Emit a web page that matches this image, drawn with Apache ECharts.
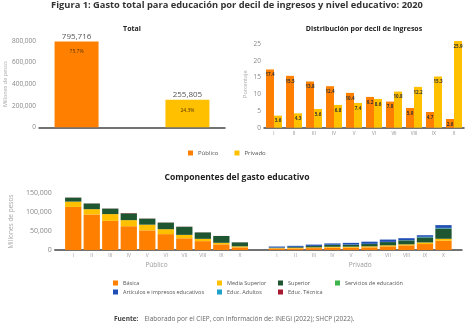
<!DOCTYPE html>
<html><head><meta charset="utf-8">
<script src="https://cdn.jsdelivr.net/npm/echarts@6/dist/echarts.min.js"></script>
<style>html,body{margin:0;padding:0;background:#fff}#c{width:474px;height:330px}</style>
</head><body><div id="c"></div>
<script>
// ---- Data ----
const totalLabels = ['Público', 'Privado'];
const totalValues = [795716, 255805];
const totalPct = ['75.7%', '24.3%'];
const deciles = ['I','II','III','IV','V','VI','VII','VIII','IX','X'];
const distPublico = [17.4, 15.5, 13.8, 12.4, 10.4, 9.2, 7.8, 5.9, 4.7, 2.6];
const distPrivado = [3.6, 4.3, 5.6, 6.8, 7.4, 8.6, 10.8, 12.2, 15.3, 25.9];
const compNames = ['Básica','Media Superior','Superior','Servicios de educación','Educ. Técnica','Educ. Adultos','Artículos e impresos educativos'];
const pubBasica   = [114000, 94000, 77000, 63000, 52000, 42000, 31000, 23500, 15000, 7000];
const pubMedia    = [14000, 14000, 18000, 16000, 15000, 13000, 9000, 6000, 4000, 2700];
const pubSuperior = [10500, 15000, 14500, 18000, 16000, 17500, 21500, 17000, 18000, 10500];
const pubServ     = [0, 0, 0, 0, 0, 0, 0, 0, 0, 0];
const pubTecnica  = [300, 300, 300, 800, 300, 300, 300, 200, 200, 100];
const pubAdultos  = [0, 0, 0, 0, 0, 0, 0, 0, 0, 0];
const pubArticulos= [0, 0, 0, 0, 0, 0, 0, 0, 0, 0];
const privBasica   = [4000, 4000, 5000, 6000, 6000, 7000, 9700, 12400, 15800, 24500];
const privMedia    = [1000, 2000, 2000, 2500, 2700, 2700, 2700, 2600, 4200, 5200];
const privSuperior = [1500, 2000, 3500, 5000, 5300, 6100, 8600, 10500, 13400, 27300];
const privServ     = [0, 0, 0, 0, 0, 0, 0, 0, 0, 0];
const privTecnica  = [0, 0, 0, 0, 0, 0, 0, 0, 0, 0];
const privAdultos  = [300, 300, 300, 400, 400, 500, 500, 600, 1500, 1500];
const privArticulos= [2400, 2700, 3500, 3500, 4500, 5700, 6100, 5100, 4200, 7300];
const groupLabels = ['Público', 'Privado'];

// ---- Build ----
const FONT = 'Open Sans';
const cOrange = '#FF8000', cYellow = '#FFC000';
const compColors = ['#FF8000','#FFC000','#1E5631','#3CB44B','#A6192E','#1FA2C8','#1F4EB4'];
const pubComp = [pubBasica, pubMedia, pubSuperior, pubServ, pubTecnica, pubAdultos, pubArticulos];
const privComp = [privBasica, privMedia, privSuperior, privServ, privTecnica, privAdultos, privArticulos];
const bottomCats = [''].concat(deciles, [''], deciles, ['']);
const fmt = v => Number(v).toLocaleString('en-US');

const axisLineStyle = {show:true, lineStyle:{color:'#444', width:1.5}};
const compSeries = compNames.map((n, i) => ({
  name: n, type: 'bar', stack: 'comp', xAxisIndex: 2, yAxisIndex: 2,
  barCategoryGap: '12%', itemStyle: {color: compColors[i]},
  data: [null].concat(pubComp[i], [null], privComp[i], [null])
}));
const totalLabel = i => ({
  show:true, position:['50%', -9], align:'center', verticalAlign:'top',
  formatter: p => '{v|' + fmt(p.value) + '}\n{p|' + totalPct[i] + '}',
  rich:{v:{fontFamily:FONT, fontSize:8, color:'#555', lineHeight:9, align:'center'},
        p:{fontFamily:FONT, fontSize:5, color:'#553300', lineHeight:21, align:'center'}}
});
const titleTxt = (size) => ({fontFamily:FONT, fontSize:size, fontWeight:'bold', color:'#222'});

const chart = echarts.init(document.getElementById('c'), null, {renderer:'canvas'});
chart.setOption({
  animation: false,
  textStyle: {fontFamily: FONT},
  title: [
    {text:'Figura 1: Gasto total para educación por decil de ingresos y nivel educativo: 2020', left:'center', top:1, padding:0,
     textStyle:{fontFamily:FONT, fontSize:9.3, fontWeight:'bold', color:'#333'}},
    {text:'Total', left:132, textAlign:'center', top:25, padding:0, textStyle:titleTxt(7)},
    {text:'Distribución por decil de ingresos', left:364, textAlign:'center', top:25, padding:0, textStyle:titleTxt(7)},
    {text:'Componentes del gasto educativo', left:'center', top:173, padding:0, textStyle:titleTxt(8.6)},
    {text:'{b|Fuente:}{n|Elaborado por el CIEP, con información de: INEGI (2022); SHCP (2022).}', left:114, top:316, padding:0,
     textStyle:{rich:{b:{fontFamily:FONT, fontSize:6.5, fontWeight:'bold', color:'#444', padding:[0,6,0,0]},
                      n:{fontFamily:FONT, fontSize:6.5, fontWeight:'normal', color:'#666'}}}}
  ],
  legend: [
    {data: totalLabels, left:188, top:150, padding:0, itemWidth:5, itemHeight:5, itemGap:16, icon:'rect', selectedMode:false,
     textStyle:{fontFamily:FONT, fontSize:6, color:'#555'}},
    {data:['Básica','Artículos e impresos educativos'], orient:'vertical', left:113, top:280, padding:0, itemWidth:5, itemHeight:5, itemGap:3, icon:'rect', selectedMode:false, textStyle:{fontFamily:FONT, fontSize:5.5, color:'#555'}},
    {data:['Media Superior','Educ. Adultos'], orient:'vertical', left:217, top:280, padding:0, itemWidth:5, itemHeight:5, itemGap:3, icon:'rect', selectedMode:false, textStyle:{fontFamily:FONT, fontSize:5.5, color:'#555'}},
    {data:['Superior','Educ. Técnica'], orient:'vertical', left:278, top:280, padding:0, itemWidth:5, itemHeight:5, itemGap:3, icon:'rect', selectedMode:false, textStyle:{fontFamily:FONT, fontSize:5.5, color:'#555'}},
    {data:['Servicios de educación'], orient:'vertical', left:335, top:280, padding:0, itemWidth:5, itemHeight:5, itemGap:3, icon:'rect', selectedMode:false, textStyle:{fontFamily:FONT, fontSize:5.5, color:'#555'}}
  ],
  grid: [
    {left:39, width:186, top:41, height:86.3},
    {left:264, width:200, top:40.7, height:87},
    {left:50, width:412, top:193.3, height:56.7}
  ],
  xAxis: [
    {gridIndex:0, type:'category', data:[''], axisLine:axisLineStyle, axisTick:{show:false}, axisLabel:{show:false}},
    {gridIndex:1, type:'category', data:deciles, axisLine:axisLineStyle, axisTick:{show:false},
     axisLabel:{interval:0, fontSize:4.5, color:'#888', margin:3.5}},
    {gridIndex:2, type:'category', data:bottomCats, boundaryGap:false, axisLine:axisLineStyle, axisTick:{show:false},
     axisLabel:{interval:0, fontSize:5, color:'#999', margin:3}},
    {gridIndex:2, type:'category', data:groupLabels, position:'bottom', axisLine:{show:false}, axisTick:{show:false},
     axisLabel:{interval:0, fontSize:6.5, color:'#999', margin:12}}
  ],
  yAxis: [
    {gridIndex:0, type:'value', min:0, max:800000, interval:200000, splitLine:{show:false}, axisLine:{show:false},
     axisLabel:{fontSize:6.5, color:'#888', margin:3, formatter:fmt},
     name:'Millones de pesos', nameLocation:'middle', nameGap:27, nameTextStyle:{fontSize:5.5, color:'#aaa'}},
    {gridIndex:1, type:'value', min:0, max:26, interval:5, splitLine:{show:false}, axisLine:{show:false},
     axisLabel:{fontSize:6.5, color:'#888', margin:3, formatter: v => (v % 5 === 0 ? v : '')},
     name:'Porcentaje', nameLocation:'middle', nameGap:16, nameTextStyle:{fontSize:5.5, color:'#aaa'}},
    {gridIndex:2, type:'value', min:0, max:150000, interval:50000, splitLine:{show:false}, axisLine:{show:false},
     axisLabel:{fontSize:7, color:'#888', margin:3, formatter:fmt},
     name:'Millones de pesos', nameLocation:'middle', nameGap:36, nameTextStyle:{fontSize:6.5, color:'#aaa'}}
  ],
  series: [
    {name:totalLabels[0], type:'bar', xAxisIndex:0, yAxisIndex:0, barWidth:44, barGap:'152%', itemStyle:{color:cOrange},
     data:[totalValues[0]], label: totalLabel(0)},
    {name:totalLabels[1], type:'bar', xAxisIndex:0, yAxisIndex:0, barWidth:44, barGap:'152%', itemStyle:{color:cYellow},
     data:[totalValues[1]], label: totalLabel(1)},
    {name:totalLabels[0], type:'bar', xAxisIndex:1, yAxisIndex:1, barGap:'0%', barCategoryGap:'20%', itemStyle:{color:cOrange},
     data:distPublico,
     label:{show:true, position:'insideTop', distance:3, fontSize:4.5, fontWeight:'bold', color:'#333', formatter: p => p.value.toFixed(1)}},
    {name:totalLabels[1], type:'bar', xAxisIndex:1, yAxisIndex:1, barGap:'0%', barCategoryGap:'20%', itemStyle:{color:cYellow},
     data:distPrivado,
     label:{show:true, position:'insideTop', distance:3, fontSize:4.5, fontWeight:'bold', color:'#333', formatter: p => p.value.toFixed(1)}}
  ].concat(compSeries)
});
</script></body></html>
